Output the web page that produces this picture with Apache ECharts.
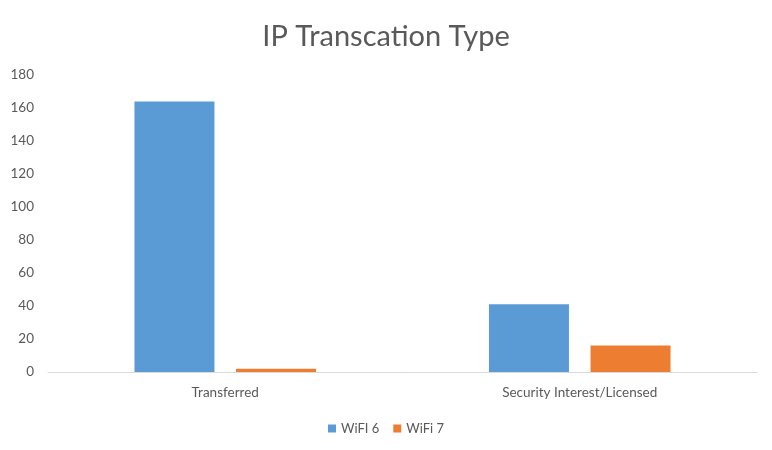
<!DOCTYPE html>
<html><head><meta charset="utf-8">
<script src="https://cdn.jsdelivr.net/npm/echarts@6/dist/echarts.min.js"></script>
<style>html,body{margin:0;padding:0;background:#fff}#c{width:772px;height:450px}</style>
</head><body><div id="c"></div>
<script>
const categories = ["Transferred", "Security Interest/Licensed"];
const wifi6 = [164, 41];
const wifi7 = [2, 16];
const seriesNames = ["WiFI 6", "WiFi 7"];
const yTicks = {min: 0, max: 180, interval: 20};

const chart = echarts.init(document.getElementById('c'));
const font = 'Lato';
chart.setOption({
  animation: false,
  backgroundColor: '#fff',
  title: {text: 'IP Transcation Type', left: 'center', top: 17,
    textStyle: {fontFamily: font, fontSize: 29, fontWeight: 'normal', color: '#595959'}},
  legend: {bottom: 10, left: 'center', itemWidth: 8, itemHeight: 8, itemGap: 14, icon: 'rect',
    textStyle: {fontFamily: font, fontSize: 13, color: '#595959'}, data: seriesNames},
  grid: {left: 48, right: 15, top: 75, bottom: 78, containLabel: false},
  xAxis: {type: 'category', data: categories,
    axisLine: {lineStyle: {color: '#D9D9D9', width: 1}}, axisTick: {show: false},
    axisLabel: {fontFamily: font, fontSize: 13.5, color: '#595959', margin: 14}},
  yAxis: {type: 'value', min: yTicks.min, max: yTicks.max, interval: yTicks.interval,
    axisLine: {show: false}, axisTick: {show: false}, splitLine: {show: false},
    axisLabel: {fontFamily: font, fontSize: 13.5, color: '#595959', margin: 14}},
  series: [
    {name: seriesNames[0], type: 'bar', data: wifi6, barWidth: 80, barGap: '27%',
      itemStyle: {color: '#5B9BD5'}},
    {name: seriesNames[1], type: 'bar', data: wifi7, barWidth: 80,
      itemStyle: {color: '#ED7D31'}}
  ]
});
</script></body></html>
